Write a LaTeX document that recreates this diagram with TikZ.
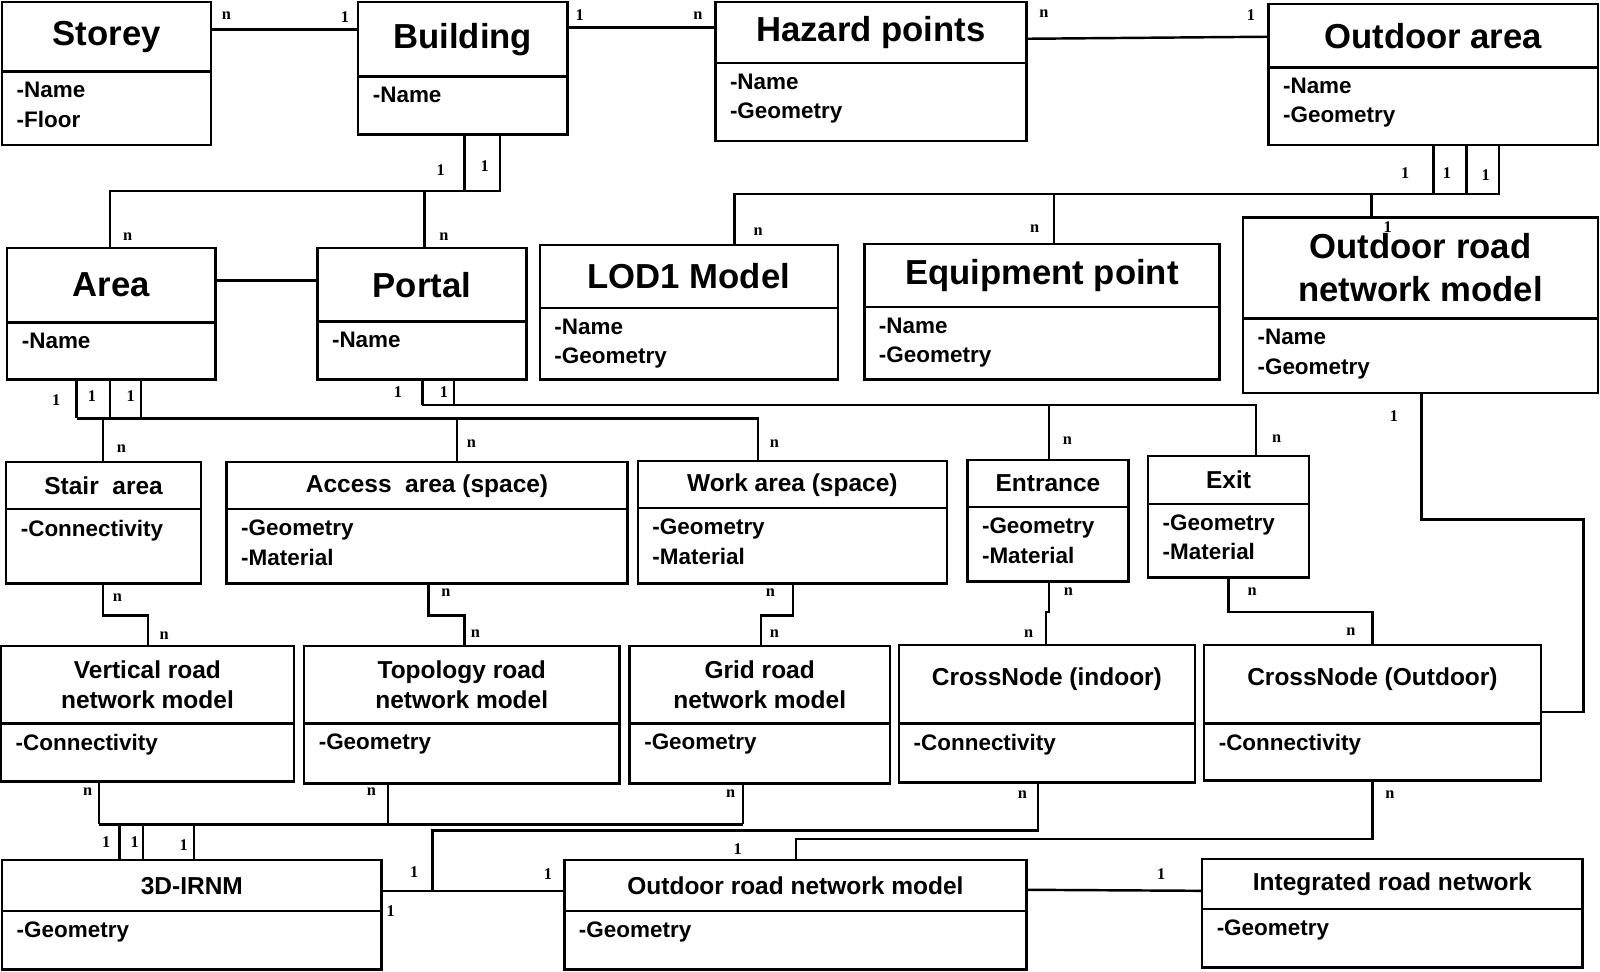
\documentclass[tikz,border=0pt]{standalone}
\usepackage{fontspec}
\setmainfont{Liberation Sans}
\newfontfamily\lblfont{Liberation Serif}
\usetikzlibrary{fit}
\tikzset{
 bx/.style={draw,line width=1.2pt,inner sep=0pt},
 ln/.style={line width=1.2pt},
 lb/.style={font=\lblfont\bfseries\fontsize{8}{9}\selectfont,inner sep=0pt},
 attr/.style={anchor=north west,align=left,inner sep=0pt,font=\bfseries\fontsize{11}{14.5}\selectfont}
}
\newcommand\ebox[9]{%
 \node[bx,fit={(#2,#3)(#4,#5)}] (#1) {};
 \draw[ln] (#2,#6) -- (#4,#6);
 \node[align=center,inner sep=0pt,font=\bfseries#9] at ({(#2+#4)/2},{(#3+#6)/2}) {#7};
 \node[attr] at ({#2+14},{#6+10}) {#8};
}
\begin{document}
\begin{tikzpicture}[x=0.5pt,y=-0.5pt]
\useasboundingbox (0,0) rectangle (1568,952);
\def\TA{\fontsize{17}{19}\selectfont}
\def\TB{\fontsize{12}{15}\selectfont}
\ebox{storey}{2}{2}{207}{142}{70}{Storey}{-Name\\-Floor}{\TA}
\ebox{building}{351}{2}{556}{132}{75}{Building}{-Name}{\TA}
\ebox{hazard}{701}{2}{1006}{138}{62}{Hazard points}{-Name\\-Geometry}{\TA}
\ebox{outarea}{1243}{4}{1566}{142}{66}{Outdoor area}{-Name\\-Geometry}{\TA}
\ebox{area}{7}{243}{211}{372}{316}{Area}{-Name}{\TA}
\ebox{portal}{311}{243}{516}{372}{315}{Portal}{-Name}{\TA}
\ebox{lod}{529}{240}{821}{372}{302}{LOD1 Model}{-Name\\-Geometry}{\TA}
\ebox{equip}{847}{239}{1195}{372}{301}{Equipment point}{-Name\\-Geometry}{\TA}
\ebox{ornmtop}{1218}{213}{1566}{385}{312}{Outdoor road\\network model}{-Name\\-Geometry}{\fontsize{17}{21}\selectfont}
\ebox{stair}{6}{453}{197}{572}{499}{Stair~~area}{-Connectivity}{\TB}
\ebox{access}{222}{453}{615}{572}{499}{Access~~area (space)}{-Geometry\\-Material}{\TB}
\ebox{work}{625}{452}{928}{572}{498}{Work area (space)}{-Geometry\\-Material}{\TB}
\ebox{entr}{948}{451}{1106}{570}{497}{Entrance}{-Geometry\\-Material}{\TB}
\ebox{exit}{1125}{447}{1283}{566}{494}{Exit}{-Geometry\\-Material}{\TB}
\ebox{vert}{1}{633}{288}{766}{709}{Vertical road\\network model}{-Connectivity}{\TB}
\ebox{topo}{298}{633}{607}{768}{709}{Topology road\\network model}{-Geometry}{\TB}
\ebox{grid}{617}{633}{872}{768}{709}{Grid road\\network model}{-Geometry}{\TB}
\ebox{cni}{881}{632}{1171}{767}{709}{\raisebox{7pt}{CrossNode (indoor)}}{-Connectivity}{\TB}
\ebox{cno}{1180}{632}{1510}{765}{709}{\raisebox{7pt}{CrossNode (Outdoor)}}{-Connectivity}{\TB}
\ebox{irnm}{2}{843}{374}{950}{893}{3D-IRNM}{-Geometry}{\TB}
\ebox{ornm}{553}{843}{1006}{950}{893}{Outdoor road network model}{-Geometry}{\TB}
\ebox{irn}{1178}{842}{1551}{948}{891}{Integrated road network}{-Geometry}{\TB}
\draw[ln] (207,29) -- (351,29);
\node[lb] at (222,15) {n}; \node[lb] at (338,17) {1};
\draw[ln] (556,27) -- (701,27);
\node[lb] at (568,15) {1}; \node[lb] at (684,15) {n};
\draw[ln] (1006,38) -- (1243,36);
\node[lb] at (1023,13) {n}; \node[lb] at (1226,15) {1};
\draw[ln] (455,132) -- (455,187) (490,132) -- (490,187) -- (108,187) -- (108,243) (416,187) -- (416,243);
\node[lb] at (432,167) {1}; \node[lb] at (475,163) {1};
\node[lb] at (125,232) {n}; \node[lb] at (435,232) {n};
\draw[ln] (211,275) -- (311,275);
\draw[ln] (1405,142) -- (1405,190) (1437,142) -- (1437,190) (1469,142) -- (1469,190) -- (720,190) -- (720,240)
 (1033,190) -- (1033,239) (1344,190) -- (1344,213);
\node[lb] at (1377,170) {1}; \node[lb] at (1418,170) {1}; \node[lb] at (1456,172) {1};
\node[lb] at (743,227) {n}; \node[lb] at (1014,224) {n}; \node[lb] at (1360,223) {1};
\draw[ln] (75,372) -- (75,410) (108,372) -- (108,410) (138,372) -- (138,410) (75,410) -- (743,410) -- (743,452)
 (101,410) -- (101,453) (448,410) -- (448,453);
\node[lb] at (55,392) {1}; \node[lb] at (90,388) {1}; \node[lb] at (128,388) {1};
\node[lb] at (119,440) {n}; \node[lb] at (462,435) {n}; \node[lb] at (759,435) {n};
\draw[ln] (414,372) -- (414,397) (445,372) -- (445,397) (414,397) -- (1231,397) -- (1231,447) (1028,397) -- (1028,451);
\node[lb] at (390,384) {1}; \node[lb] at (435,384) {1};
\node[lb] at (1046,432) {n}; \node[lb] at (1251,430) {n};
\draw[ln] (1393,385) -- (1393,509) -- (1552,509) -- (1552,698) -- (1510,698);
\node[lb] at (1366,408) {1};
\draw[ln] (101,572) -- (101,603) -- (145,603) -- (145,633);
\node[lb] at (115,586) {n}; \node[lb] at (161,623) {n};
\draw[ln] (420,572) -- (420,603) -- (455,603) -- (455,633);
\node[lb] at (437,581) {n}; \node[lb] at (466,621) {n};
\draw[ln] (777,572) -- (777,603) -- (746,603) -- (746,633);
\node[lb] at (755,581) {n}; \node[lb] at (759,621) {n};
\draw[ln] (1028,570) -- (1028,600) -- (1025,600) -- (1025,632);
\node[lb] at (1047,580) {n}; \node[lb] at (1008,621) {n};
\draw[ln] (1204,566) -- (1204,600) -- (1345,600) -- (1345,632);
\node[lb] at (1227,580) {n}; \node[lb] at (1324,619) {n};
\draw[ln] (97,766) -- (97,808) (380,768) -- (380,808) (728,768) -- (728,808) (97,808) -- (728,808)
 (117,808) -- (117,843) (140,808) -- (140,843) (190,808) -- (190,843);
\node[lb] at (86,776) {n}; \node[lb] at (364,776) {n}; \node[lb] at (716,778) {n};
\node[lb] at (104,825) {1}; \node[lb] at (132,825) {1}; \node[lb] at (180,828) {1};
\draw[ln] (1017,767) -- (1017,814) -- (424,814) -- (424,873) (374,873) -- (553,873);
\node[lb] at (1002,779) {n}; \node[lb] at (406,855) {1}; \node[lb] at (383,893) {1}; \node[lb] at (537,857) {1};
\draw[ln] (1345,765) -- (1345,822) -- (780,822) -- (780,843);
\node[lb] at (1362,779) {n}; \node[lb] at (723,832) {1};
\draw[ln] (1006,872) -- (1178,873);
\node[lb] at (1138,857) {1};
\end{tikzpicture}
\end{document}
